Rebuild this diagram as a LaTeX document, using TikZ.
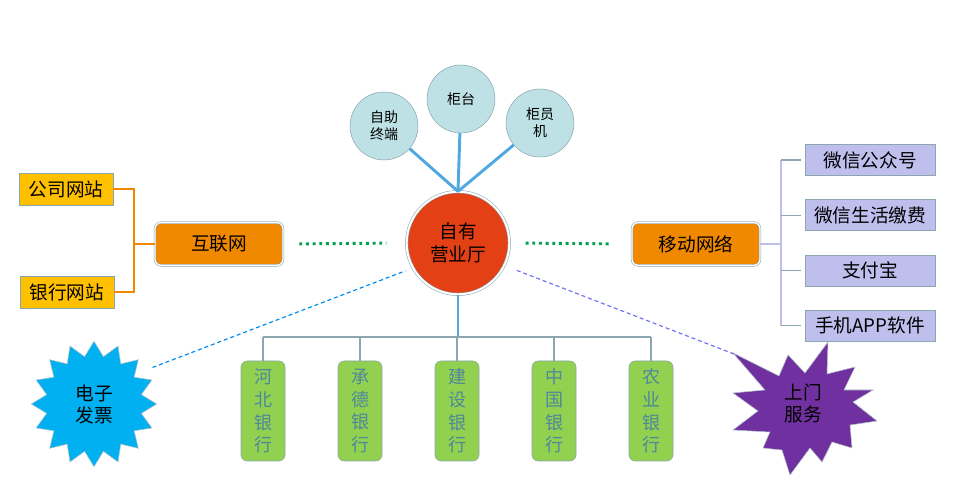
\documentclass[tikz,border=0pt]{standalone}
\usepackage{fontspec}
\setmainfont{Noto Sans CJK SC}
\usetikzlibrary{positioning,shapes.geometric}
\definecolor{gold}{RGB}{255,192,0}
\definecolor{netorange}{RGB}{240,136,0}
\definecolor{hallred}{RGB}{228,64,22}
\definecolor{paleblue}{RGB}{189,225,229}
\definecolor{edgegray}{RGB}{140,166,176}
\definecolor{lavender}{RGB}{191,191,238}
\definecolor{bankgreen}{RGB}{146,208,80}
\definecolor{banktext}{RGB}{78,136,156}
\definecolor{skyblue}{RGB}{0,176,240}
\definecolor{svcpurple}{RGB}{112,48,160}
\definecolor{linkblue}{RGB}{79,168,224}
\definecolor{dotgreen}{RGB}{0,160,80}
\begin{document}
\begin{tikzpicture}[x=0.75pt,y=-0.75pt,
    site/.style={draw=edgegray,fill=gold,minimum width=70.5pt,minimum height=24pt,inner sep=0pt,font=\fontsize{14}{16}\selectfont},
    hub/.style={draw=edgegray,double=white,double distance=1pt,fill=netorange,rounded corners=4.5pt,minimum width=96pt,minimum height=32pt,inner sep=0pt,font=\fontsize{14}{16}\selectfont},
    booth/.style={circle,draw=edgegray,fill=paleblue,minimum size=51pt,inner sep=0pt,align=center,font=\fontsize{10.5}{12.75}\selectfont},
    app/.style={draw=edgegray,fill=lavender,minimum width=97.5pt,minimum height=23.25pt,inner sep=0pt,font=\fontsize{14}{16}\selectfont},
    bank/.style={draw=edgegray,fill=bankgreen,rounded corners=4.5pt,minimum width=33pt,minimum height=75pt,inner sep=0pt,align=center,text=banktext,font=\fontsize{13.5}{17}\selectfont},
    spoke/.style={linkblue,line width=2.2pt},
    twig/.style={edgegray,line width=0.8pt},
    greendots/.style={dotgreen,line width=2.2pt,dash pattern=on 2.2pt off 2.8pt,shorten <=12pt,shorten >=15pt}]
  \useasboundingbox (0,0) rectangle (961,498);

  \node[circle,draw=edgegray,double=white,double distance=1.5pt,fill=hallred,minimum size=77pt,inner sep=0pt,align=center,font=\fontsize{14}{17}\selectfont] (hall) at (458,243) {自有\\营业厅};
  \node[booth] (selfsvc) at (384,126) {自助\\终端};
  \node[booth] (counter) at (461,99) {柜台};
  \node[booth] (atm) at (540,123) {柜员\\机};
  \draw[spoke] (selfsvc) -- (hall.north);
  \draw[spoke] (counter) -- (hall.north);
  \draw[spoke] (atm) -- (hall.north);

  \node[hub] (net) at (219,244) {互联网};
  \node[site] (corpweb) at (66,189) {公司网站};
  \node[site] (bankweb) at (67,292) {银行网站};
  \coordinate (lfork) at (134,244);
  \draw[netorange,line width=1.1pt] (corpweb.east) -| (lfork) |- (bankweb.east);
  \draw[netorange,line width=1.1pt] (lfork) -- (net.west);
  \draw[greendots] (net.east) -- (hall.west);

  \node[hub] (mobile) at (696,244) {移动网络};
  \node[app] (wxpub) at (870,160) {微信公众号};
  \node[app,below=17.8pt of wxpub] (wxpay) {微信生活缴费};
  \node[app,below=17.8pt of wxpay] (alipay) {支付宝};
  \node[app,below=17.8pt of alipay] (phone) {手机APP软件};
  \coordinate (rfork) at (781,244);
  \draw[lavender,line width=1.1pt] (mobile.east) -- (rfork);
  \draw[lavender,line width=1.1pt] (rfork |- wxpub) -- (rfork |- phone);
  \foreach \b in {wxpub,wxpay,alipay,phone}
    \draw[twig] (rfork |- \b) -- ([xshift=-3pt]\b.west);
  \draw[greendots] (hall.east) -- (mobile.west);

  \foreach \txt [count=\i] in {河\\北\\银\\行,承\\德\\银\\行,建\\设\\银\\行,中\\国\\银\\行,农\\业\\银\\行}
    \node[bank] (bank\i) at ({263+97*(\i-1)},411) {\txt};
  \coordinate (bus) at (458,337);
  \draw[spoke] (hall.south) -- (bus);
  \draw[twig] (bank1.north |- bus) -- (bank5.north |- bus);
  \foreach \i in {1,...,5}
    \draw[twig] (bank\i.north) -- (bank\i.north |- bus);

  \node[star,star points=16,star point ratio=1.3,minimum size=94pt,fill=skyblue,draw=edgegray!70,inner sep=0pt,align=center,font=\fontsize{14}{16.5}\selectfont] (ticket) at (94,404) {电子\\发票};
  \draw[skyblue!80!blue,line width=0.9pt,dash pattern=on 3pt off 2.2pt,shorten <=14pt,shorten >=6pt] (ticket.36) -- (hall.209);

  \filldraw[fill=svcpurple,draw=edgegray!70] (733,353) -- (779,376) -- (788,355) -- (805,373) -- (828,342) -- (827,374) -- (855,367) -- (844,390) -- (873,390) -- (853,402) -- (877,421) -- (850,425) -- (852,448) -- (832,442) -- (822,462) -- (810,448) -- (790,475) -- (782,450) -- (763,448) -- (770,432) -- (733,430) -- (758,411) -- (733,393) -- (765,390) -- cycle;
  \coordinate (svctip) at (734,354);
  \node[align=center,font=\fontsize{14}{16.5}\selectfont] (svc) at (803,403) {上门\\服务};
  \draw[lavender!60!blue,line width=0.9pt,dash pattern=on 3pt off 2.2pt,shorten <=10pt] (hall.334) -- (svctip);
\end{tikzpicture}
\end{document}
